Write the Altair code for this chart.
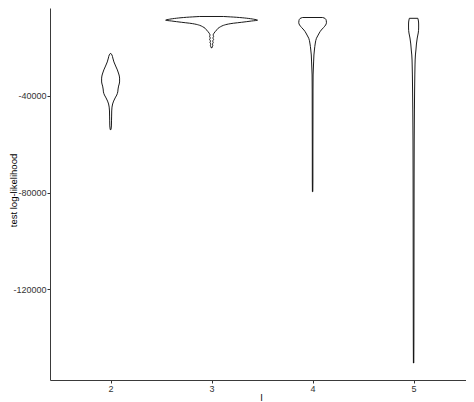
import altair as alt
import pandas as pd

# categories on the x axis
categories = [2, 3, 4, 5]

# violin outlines: log-likelihood value and half-width (in category units)
ll_2 = [-22400, -23000, -24300, -25900, -27600, -29200, -30900, -32600, -34200, -35900,
        -37100, -38300, -39600, -40800, -42100, -43300, -44600, -46200, -48300, -50300,
        -52400, -53900]
half_2 = [0.003, 0.013, 0.022, 0.033, 0.050, 0.067, 0.081, 0.089, 0.089, 0.079,
          0.074, 0.071, 0.061, 0.045, 0.030, 0.020, 0.014, 0.011, 0.010, 0.009,
          0.008, 0.004]

ll_3 = [-7100, -7430, -7810, -8220, -8630, -8970, -9500, -9880, -10210, -10740,
        -11320, -11990, -12690, -13390, -14060, -14760, -15380, -16000, -16620, -17240,
        -17860, -18480, -19100, -19720, -20140]
half_3 = [0.119, 0.248, 0.347, 0.416, 0.455, 0.396, 0.297, 0.218, 0.168, 0.119,
          0.089, 0.064, 0.050, 0.035, 0.023, 0.015, 0.020, 0.012, 0.020, 0.010,
          0.016, 0.008, 0.012, 0.006, 0.002]

ll_4 = [-7520, -7930, -8760, -9670, -10620, -11650, -12690, -13930, -15170, -16120,
        -18070, -20970, -23030, -25930, -28000, -31310, -37520, -49930, -62350, -74760,
        -79600]
half_4 = [0.099, 0.124, 0.135, 0.137, 0.129, 0.109, 0.086, 0.066, 0.050, 0.038,
          0.027, 0.018, 0.013, 0.010, 0.008, 0.005, 0.004, 0.0035, 0.003, 0.003,
          0.002]

ll_5 = [-7850, -8550, -10210, -11860, -13930, -16000, -18480, -20970, -23030, -27170,
        -31310, -37520, -45790, -58210, -74760, -91310, -107860, -124420, -140970, -150490]
half_5 = [0.042, 0.046, 0.050, 0.050, 0.046, 0.036, 0.028, 0.023, 0.018, 0.014,
          0.012, 0.010, 0.008, 0.006, 0.005, 0.0045, 0.004, 0.0035, 0.003, 0.002]

y_ticks = [-40000, -80000, -120000]

rows = []
for cat, lls, halves in zip(categories, [ll_2, ll_3, ll_4, ll_5], [half_2, half_3, half_4, half_5]):
    for v, h in zip(lls, halves):
        rows.append({"l": cat, "ll": v, "half": h})
df = pd.DataFrame(rows)

FONT = "Liberation Sans"

chart = (
    alt.Chart(df)
    .transform_calculate(lo="datum.l - datum.half", hi="datum.l + datum.half")
    .mark_area(orient="horizontal", interpolate="monotone", fill="white",
               fillOpacity=1, stroke="black", strokeWidth=0.9)
    .encode(
        x=alt.X("lo:Q", stack=None,
                scale=alt.Scale(domain=[1.4, 5.5188], nice=False, zero=False),
                axis=alt.Axis(values=categories, format="d", title="l", grid=False,
                              titleX=211, titleY=12.5, titleBaseline="top",
                              titleAlign="center")),
        x2="hi:Q",
        y=alt.Y("ll:Q",
                scale=alt.Scale(domain=[-157519, -3586], nice=False, zero=False),
                axis=alt.Axis(values=y_ticks, labelExpr="'' + datum.value",
                              title="test log-likelihood", grid=False,
                              titleX=-42, titleY=182, titleAngle=-90,
                              titleAlign="center", titleBaseline="top")),
        detail="l:N",
    )
    .properties(width=416, height=372,
                autosize=alt.AutoSizeParams(type="none"),
                padding={"left": 42, "top": 0, "right": 0, "bottom": 22})
    .configure_view(stroke=None)
    .configure_axis(domainColor="#3a3a3a", domainWidth=1, tickColor="#333333",
                    tickWidth=1, tickSize=3, labelPadding=1,
                    labelFont=FONT, labelFontSize=9, labelColor="#333333",
                    titleFont=FONT, titleFontSize=9.5, titleFontWeight="normal",
                    titleColor="black")
)

chart.save("out.html", embed_options={"renderer": "svg", "actions": False})
